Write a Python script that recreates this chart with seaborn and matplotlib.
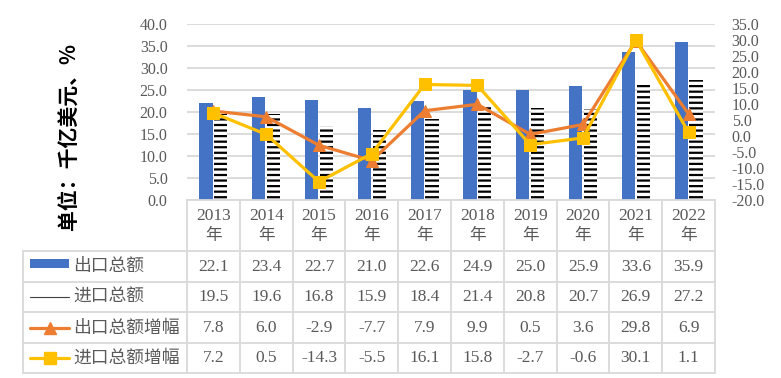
import numpy as np
import pandas as pd
import matplotlib
matplotlib.use("Agg")
import matplotlib.pyplot as plt
from matplotlib.lines import Line2D
from matplotlib.patches import Rectangle
import seaborn as sns

# 数据
years = ["2013", "2014", "2015", "2016", "2017", "2018", "2019", "2020", "2021", "2022"]
export_total = [22.1, 23.4, 22.7, 21.0, 22.6, 24.9, 25.0, 25.9, 33.6, 35.9]
import_total = [19.5, 19.6, 16.8, 15.9, 18.4, 21.4, 20.8, 20.7, 26.9, 27.2]
export_growth = [7.8, 6.0, -2.9, -7.7, 7.9, 9.9, 0.5, 3.6, 29.8, 6.9]
import_growth = [7.2, 0.5, -14.3, -5.5, 16.1, 15.8, -2.7, -0.6, 30.1, 1.1]
series_names = ["出口总额", "进口总额", "出口总额增幅", "进口总额增幅"]

BLUE = "#4472C4"
ORANGE = "#ED7D31"
YELLOW = "#FFC000"
GRID = "#D9D9D9"
TXT = "#595959"
FONT = ["Liberation Serif", "Noto Sans CJK SC"]

sns.set_style("white")
plt.rcParams["font.family"] = FONT
plt.rcParams["hatch.linewidth"] = 1.6

W, H = 781, 378
fig = plt.figure(figsize=(W / 100, H / 100), dpi=100)

def fx(x):
    return x / W

def fy(y):
    return 1 - y / H

ax_l, ax_r, ax_t, ax_b = 187, 715, 24, 200
ax = fig.add_axes([fx(ax_l), fy(ax_b), (ax_r - ax_l) / W, (ax_b - ax_t) / H])

df = pd.DataFrame({
    "年份": years * 2,
    "值": export_total + import_total,
    "系列": [series_names[0]] * len(years) + [series_names[1]] * len(years),
})
sns.barplot(data=df, x="年份", y="值", hue="系列", ax=ax, width=0.56, gap=0.1,
            palette=[BLUE, "white"], legend=False, saturation=1)
n = len(years)
for i, p in enumerate(ax.patches[:2 * n]):
    if i < n:
        p.set_linewidth(0)
    else:
        p.set_facecolor("white")
        p.set_edgecolor("black")
        p.set_hatch("---")
        p.set_linewidth(0)

ax.set_xlim(-0.5, n - 0.5)
ax.set_ylim(0, 40)
ax.set_yticks(np.arange(0, 40.1, 5))
ax.set_yticklabels([f"{v:.1f}" for v in np.arange(0, 40.1, 5)], fontsize=11.5, color=TXT)
ax.tick_params(axis="y", length=0, pad=14)
ax.set_xticks([])
ax.set_xlabel("")
ax.set_ylabel("")
ax.yaxis.grid(True, color=GRID, linewidth=1.3)
ax.set_axisbelow(True)
for s in ax.spines.values():
    s.set_visible(False)

ax2 = ax.twinx()
pos = np.arange(n)
sns.lineplot(x=pos, y=export_growth, ax=ax2, color=ORANGE, marker="^", markersize=9,
             markeredgecolor=ORANGE, linewidth=2.3)
sns.lineplot(x=pos, y=import_growth, ax=ax2, color=YELLOW, marker="s", markersize=9,
             markeredgecolor=YELLOW, linewidth=2.3)
ax2.set_ylim(-20, 35)
rt = np.arange(-20, 35.1, 5)
ax2.set_yticks(rt)
ax2.set_yticklabels([f"{v:.1f}" for v in rt], fontsize=11.5, color=TXT)
ax2.tick_params(axis="y", length=0, pad=12)
ax2.grid(False)
for s in ax2.spines.values():
    s.set_visible(False)

# y轴标题
fig.text(fx(68), fy(137), "单位：千亿美元、%", rotation=90, ha="center", va="center",
         fontsize=15, fontweight="bold", color="black", family=["Noto Sans CJK SC"])

# 数据表
col_w = (ax_r - ax_l) / n
row_lines = [251, 282, 312, 343, 373]
leg_left = 23
lk = dict(color=GRID, linewidth=1.3, transform=fig.transFigure)
fig.add_artist(Line2D([fx(ax_l), fx(ax_r)], [fy(200), fy(200)], **lk))
for y in row_lines:
    fig.add_artist(Line2D([fx(leg_left), fx(ax_r)], [fy(y), fy(y)], **lk))
for k in range(n + 1):
    x = ax_l + k * col_w
    fig.add_artist(Line2D([fx(x), fx(x)], [fy(200), fy(373)], **lk))
fig.add_artist(Line2D([fx(leg_left), fx(leg_left)], [fy(251), fy(373)], **lk))

for k, yr in enumerate(years):
    cx = ax_l + (k + 0.5) * col_w
    fig.text(fx(cx), fy(216), yr, ha="center", va="center", fontsize=12.5, color=TXT)
    fig.text(fx(cx), fy(236), "年", ha="center", va="center", fontsize=12, color=TXT)

rows = [export_total, import_total, export_growth, import_growth]
row_cy = [267, 297, 328, 358]
for vals, cy in zip(rows, row_cy):
    for k, v in enumerate(vals):
        cx = ax_l + (k + 0.5) * col_w
        fig.text(fx(cx), fy(cy), f"{v:.1f}", ha="center", va="center", fontsize=12.5, color=TXT)

# 图例
fig.add_artist(Rectangle((fx(30), fy(268)), fx(39), 9 / H, transform=fig.transFigure,
                         facecolor=BLUE, edgecolor="none"))
fig.add_artist(Line2D([fx(30), fx(69)], [fy(297), fy(297)], color="#404040", linewidth=0.8,
                      transform=fig.transFigure))
fig.add_artist(Line2D([fx(30), fx(69)], [fy(328), fy(328)], color=ORANGE, linewidth=2.3,
                      transform=fig.transFigure))
fig.add_artist(Line2D([fx(49.5)], [fy(328)], color=ORANGE, marker="^", markersize=9,
                      transform=fig.transFigure))
fig.add_artist(Line2D([fx(30), fx(69)], [fy(358), fy(358)], color=YELLOW, linewidth=2.3,
                      transform=fig.transFigure))
fig.add_artist(Line2D([fx(49.5)], [fy(358)], color=YELLOW, marker="s", markersize=9,
                      transform=fig.transFigure))
for name, cy in zip(series_names, row_cy):
    fig.text(fx(73), fy(cy), name, ha="left", va="center", fontsize=12.8, color=TXT)

fig.savefig("out.png", dpi=100)
